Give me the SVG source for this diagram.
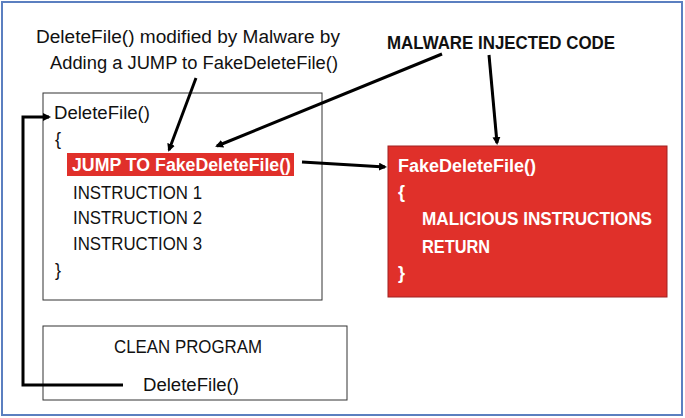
<svg xmlns="http://www.w3.org/2000/svg" width="685" height="418" viewBox="0 0 685 418">
<style>
.t{font-family:"Liberation Sans",Arial,sans-serif;font-size:18px;fill:#111}
.b{font-weight:bold}
.w{fill:#fff}
.box{fill:#fff;stroke:#333;stroke-width:1}
.c{fill:none;stroke:#000;stroke-width:3}
</style>
<defs>
<marker id="ah" markerWidth="8" markerHeight="8" refX="6" refY="4" orient="auto" markerUnits="userSpaceOnUse">
<path d="M0,0 L8,4 L0,8 z" fill="#000"/>
</marker>
</defs>
<rect x="2" y="2" width="680" height="413" fill="#fff" stroke="#5b7fc0" stroke-width="2"/>
<g id="caption">
<text class="t" x="36" y="43" textLength="304" lengthAdjust="spacingAndGlyphs">DeleteFile() modified by Malware by</text>
<text class="t" x="50" y="69" textLength="288" lengthAdjust="spacingAndGlyphs">Adding a JUMP to FakeDeleteFile()</text>
</g>
<g id="malware-label">
<text class="t b" x="387" y="49" font-size="18.5" textLength="228" lengthAdjust="spacingAndGlyphs">MALWARE INJECTED CODE</text>
</g>
<g id="deletefile-box">
<rect class="box" x="43" y="93" width="279" height="207"/>
<text class="t" x="54" y="119" textLength="96" lengthAdjust="spacingAndGlyphs">DeleteFile()</text>
<text class="t" x="55" y="145">{</text>
<rect x="67" y="153" width="227" height="23" fill="#e0302a"/>
<text class="t b w" x="72" y="171" textLength="219" lengthAdjust="spacingAndGlyphs">JUMP TO FakeDeleteFile()</text>
<text class="t" x="73" y="199" textLength="129" lengthAdjust="spacingAndGlyphs">INSTRUCTION 1</text>
<text class="t" x="73" y="224" textLength="129" lengthAdjust="spacingAndGlyphs">INSTRUCTION 2</text>
<text class="t" x="73" y="250" textLength="129" lengthAdjust="spacingAndGlyphs">INSTRUCTION 3</text>
<text class="t" x="55" y="276">}</text>
</g>
<g id="fake-box">
<rect x="388" y="146" width="279" height="151" fill="#e0302a" stroke="#a02020" stroke-width="1"/>
<text class="t b w" x="398" y="172" textLength="138" lengthAdjust="spacingAndGlyphs">FakeDeleteFile()</text>
<text class="t b w" x="398" y="198">{</text>
<text class="t b w" x="422" y="225" textLength="230" lengthAdjust="spacingAndGlyphs">MALICIOUS INSTRUCTIONS</text>
<text class="t b w" x="422" y="253" textLength="68" lengthAdjust="spacingAndGlyphs">RETURN</text>
<text class="t b w" x="398" y="279">}</text>
</g>
<g id="clean-box">
<rect class="box" x="43" y="326" width="304" height="74"/>
<text class="t" x="114" y="353" textLength="148" lengthAdjust="spacingAndGlyphs">CLEAN PROGRAM</text>
<text class="t" x="143" y="391" textLength="96" lengthAdjust="spacingAndGlyphs">DeleteFile()</text>
</g>
<g id="connectors">
<polyline class="c" points="123,385 23,385 23,117 49,117" marker-end="url(#ah)"/>
<line class="c" x1="196" y1="78" x2="169" y2="150" marker-end="url(#ah)"/>
<line class="c" x1="442" y1="54" x2="217" y2="146" marker-end="url(#ah)"/>
<line class="c" x1="489" y1="55" x2="497" y2="143" marker-end="url(#ah)"/>
<line class="c" x1="302" y1="162" x2="385" y2="167" marker-end="url(#ah)"/>
</g>
</svg>
